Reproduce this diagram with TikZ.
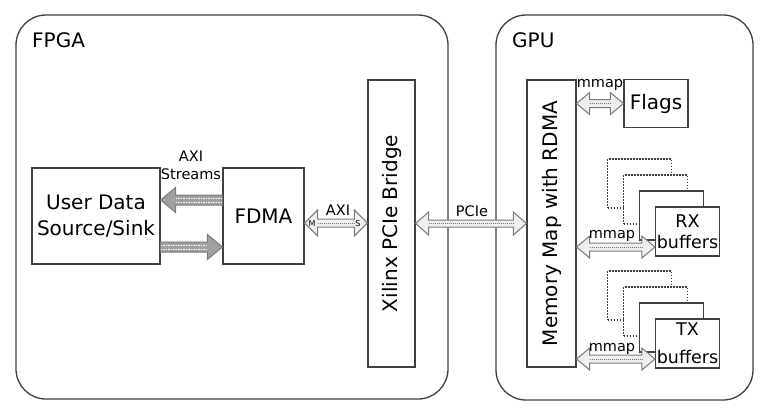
\documentclass[tikz,border=0pt]{standalone}
\usepackage{fontspec}
\setmainfont{DejaVu Sans}
\usetikzlibrary{calc}
\definecolor{bord}{HTML}{404040}
\definecolor{arrline}{HTML}{7A7A7A}
\definecolor{arrfill}{HTML}{EEEEEE}
\definecolor{strfill}{HTML}{A0A0A0}
\tikzset{
  box/.style={draw=bord, line width=1.2pt, fill=white, inner sep=0pt, align=center},
  region/.style={draw=bord, line width=1.3pt, rounded corners=30pt, inner sep=0pt},
  biglabel/.style={font=\fontsize{20}{26}\selectfont},
  smalllabel/.style={font=\fontsize{14.5}{18}\selectfont, inner sep=0pt, align=center},
  tinylabel/.style={font=\fontsize{8}{9}\selectfont, inner sep=0pt},
  fatarrow/.style={draw=arrline, fill=arrfill, line width=1pt, line join=miter},
  streamarrow/.style={draw=arrline, fill=strfill, line width=1pt, line join=miter},
  ghost/.style={draw=bord, dash pattern=on 1.5pt off 1.5pt, line width=1.1pt, fill=white, inner sep=0pt},
}
% double-headed fat arrow: #1 from, #2 to, #3 head length, #4 head half height, #5 shaft half height
\newcommand\dblarrow[5]{%
  \path[fatarrow] let \p1=(#1), \p2=(#2) in
    (\x1,\y1) -- ({\x1+#3},{\y1+#4}) -- ({\x1+#3},{\y1+#5}) -- ({\x2-#3},{\y1+#5})
    -- ({\x2-#3},{\y1+#4}) -- (\x2,\y1) -- ({\x2-#3},{\y1-#4}) -- ({\x2-#3},{\y1-#5})
    -- ({\x1+#3},{\y1-#5}) -- ({\x1+#3},{\y1-#4}) -- cycle;
  \draw[arrline, dash pattern=on 1pt off 1pt, line width=0.8pt] let \p1=(#1), \p2=(#2) in
    ({\x1+#3},\y1) -- ({\x2-#3},\y1);
}
% single fat arrow with head at #2
\newcommand\onearrow[5]{%
  \path[streamarrow] let \p1=(#1), \p2=(#2), \n1={(\x2-\x1)/abs(\x2-\x1)} in
    (\x1,{\y1+#5}) -- ({\x2-\n1*#3},{\y1+#5}) -- ({\x2-\n1*#3},{\y1+#4}) -- (\x2,\y1)
    -- ({\x2-\n1*#3},{\y1-#4}) -- ({\x2-\n1*#3},{\y1-#5}) -- (\x1,{\y1-#5}) -- cycle;
  \draw[white, dash pattern=on 1.5pt off 1pt, line width=0.8pt] let \p1=(#1), \p2=(#2), \n1={(\x2-\x1)/abs(\x2-\x1)} in
    (\x1,{\y1+2pt}) -- ({\x2-\n1*#3},{\y1+2pt}) (\x1,{\y1-2pt}) -- ({\x2-\n1*#3},{\y1-2pt});
}
\begin{document}
\begin{tikzpicture}[x=1pt, y=-1pt]
\useasboundingbox[fill=white] (0,0) rectangle (768,416);

% regions
\node[region, minimum width=432pt, minimum height=384pt] (fpga) at (232,207) {};
\node[region, minimum width=257pt, minimum height=385pt] (gpu) at (624.5,207.5) {};
\node[biglabel, anchor=base west, inner sep=0pt] (fpgalabel) at (32,47) {FPGA};
\node[biglabel, anchor=base west, inner sep=0pt] (gpulabel) at (512,47) {GPU};

% FPGA side
\node[box, biglabel, minimum width=128pt, minimum height=96pt] (user) at (96,216) {User Data\\Source/Sink};
\node[box, biglabel, minimum width=81pt, minimum height=96pt] (fdma) at (263.5,216) {FDMA};
\node[box, minimum width=47pt, minimum height=287pt] (bridge) at (391.5,223.5)
  {\fontsize{20}{24}\selectfont\rotatebox{90}{Xilinx PCIe Bridge}};

% GPU side
\node[box, minimum width=49pt, minimum height=287pt] (mem) at (551.5,223.5)
  {\fontsize{20}{24}\selectfont\rotatebox{90}{Memory Map with RDMA}};
\node[box, biglabel, minimum width=64pt, minimum height=48pt] (flags) at (656,103.5) {Flags};

% RX stack
\node[ghost, minimum width=64pt, minimum height=49pt] (rx1) at (639.5,183.5) {};
\node[ghost, minimum width=64pt, minimum height=49pt] (rx2) at (655.5,199.5) {};
\node[box, minimum width=64pt, minimum height=49pt] (rx3) at (671.5,215.5) {};
\node[box, font=\fontsize{17.5}{21}\selectfont, minimum width=64pt, minimum height=49pt] (rx4) at (687.5,231.5) {RX\\buffers};

% TX stack
\node[ghost, minimum width=64pt, minimum height=49pt] (tx1) at (639.5,295.5) {};
\node[ghost, minimum width=64pt, minimum height=49pt] (tx2) at (655.5,311.5) {};
\node[box, minimum width=64pt, minimum height=49pt] (tx3) at (671.5,327.5) {};
\node[box, font=\fontsize{17.5}{28}\selectfont, minimum width=64pt, minimum height=49pt] (tx4) at (687.5,343.5) {TX\\buffers};

% stream arrows
\onearrow{$(fdma.west)+(0,-16)$}{user.east}{15pt}{12.5pt}{5pt}
\onearrow{$(user.east)+(0,31)$}{fdma.west}{15pt}{12.5pt}{5pt}
\node[smalllabel] (axis) at (191,165) {AXI\\Streams};

% AXI
\dblarrow{$(fdma.east)+(0,7)$}{bridge.west}{13pt}{13pt}{4pt}
\node[smalllabel, anchor=base] (axil) at (338,215) {AXI};
\node[tinylabel, anchor=base] (mlab) at (312,226) {M};
\node[tinylabel, anchor=base] (slab) at (358,226) {S};

% PCIe
\dblarrow{bridge.east}{mem.west}{13pt}{11.5pt}{3.5pt}
\node[smalllabel, anchor=base] (pciel) at (472,216) {PCIe};

% mmap arrows
\dblarrow{mem.east |- flags.west}{flags.west}{13pt}{11pt}{4pt}
\node[smalllabel, anchor=base] (mm1) at (600,87) {mmap};
\dblarrow{$(mem.east |- rx4.west)+(0,15.5)$}{rx4.west}{13pt}{11pt}{4pt}
\node[smalllabel, anchor=base] (mm2) at (612,238) {mmap};
\dblarrow{$(mem.east |- tx4.west)+(0,15.5)$}{tx4.west}{13pt}{11pt}{4pt}
\node[smalllabel, anchor=base] (mm3) at (612,351) {mmap};
\end{tikzpicture}
\end{document}
